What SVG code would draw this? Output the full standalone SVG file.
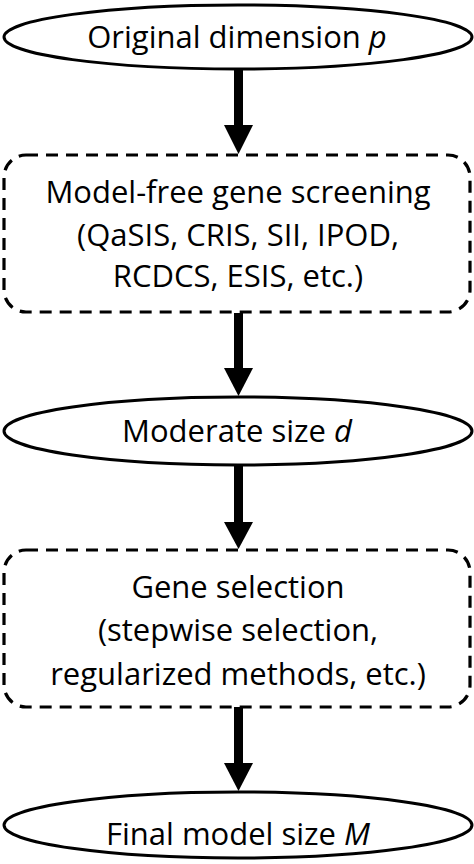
<svg xmlns="http://www.w3.org/2000/svg" width="474" height="864" viewBox="0 0 474 864">
<defs>
<style>
.oval{fill:#fff;stroke:#000;stroke-width:3}
.box{fill:#fff;stroke:#000;stroke-width:3.2;stroke-dasharray:12 8}
.t{font-family:"Open Sans","Liberation Sans",sans-serif;font-size:31px;fill:#000;text-anchor:middle}
.shaft{stroke:#000;stroke-width:9}
.head{fill:#000}
</style>
</defs>
<rect width="474" height="864" fill="#fff"/>
<g id="connectors">
<line class="shaft" x1="238.5" y1="68" x2="238.5" y2="127"/><polygon class="head" points="224,125 253,125 238.5,154"/>
<line class="shaft" x1="238.5" y1="313" x2="238.5" y2="370"/><polygon class="head" points="224,368 253,368 238.5,396"/>
<line class="shaft" x1="238.5" y1="465" x2="238.5" y2="524"/><polygon class="head" points="224,522 253,522 238.5,549"/>
<line class="shaft" x1="238.5" y1="707" x2="238.5" y2="765"/><polygon class="head" points="224,763 253,763 238.5,791"/>
</g>
<g id="n1">
<ellipse class="oval" cx="238" cy="37" rx="234" ry="32"/>
<text class="t" x="237" y="48">Original dimension <tspan font-style="italic">p</tspan></text>
</g>
<g id="n2">
<rect class="box" x="4" y="155" width="466" height="157" rx="22"/>
<text class="t" x="238" y="203">Model-free gene screening</text>
<text class="t" x="238" y="246">(QaSIS, CRIS, SII, IPOD,</text>
<text class="t" x="238" y="287">RCDCS, ESIS, etc.)</text>
</g>
<g id="n3">
<ellipse class="oval" cx="238" cy="431" rx="234" ry="34"/>
<text class="t" x="237" y="442">Moderate size <tspan font-style="italic">d</tspan></text>
</g>
<g id="n4">
<rect class="box" x="4" y="550" width="466" height="157" rx="22"/>
<text class="t" x="238" y="598">Gene selection</text>
<text class="t" x="238" y="641">(stepwise selection,</text>
<text class="t" x="238" y="685">regularized methods, etc.)</text>
</g>
<g id="n5">
<ellipse class="oval" cx="238" cy="825" rx="234" ry="33"/>
<text class="t" x="238" y="845">Final model size <tspan font-style="italic">M</tspan></text>
</g>
</svg>
